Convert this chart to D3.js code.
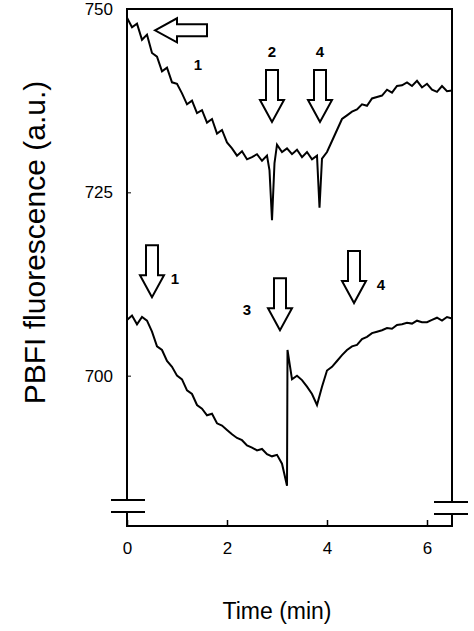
<!DOCTYPE html>
<html><head><meta charset="utf-8">
<script src="https://cdn.jsdelivr.net/npm/d3@7"></script>
<style>body{margin:0;background:#fff}text{font-family:Arial,"Liberation Sans",sans-serif}</style>
</head><body><div class="chart"></div>
<script>
// traces (time in min, fluorescence in a.u.)
var upperT = [0,0.1,0.2,0.3,0.4,0.5,0.6,0.7,0.8,0.9,1.0,1.1,1.2,1.3,1.4,1.5,1.6,1.7,1.8,1.9,2.0,2.1,2.2,2.3,2.4,2.5,2.6,2.7,2.8,2.85,2.9,2.95,3.0,3.1,3.2,3.3,3.4,3.5,3.6,3.7,3.8,3.85,3.9,4.0,4.1,4.2,4.3,4.4,4.5,4.6,4.7,4.8,4.9,5.0,5.1,5.2,5.3,5.4,5.5,5.6,5.7,5.8,5.9,6.0,6.1,6.2,6.3,6.4,6.5];
var upperV = [748.8,747.5,748,745.8,746.5,744,743.5,741.5,742,740,739.8,738.5,737,737.5,735.8,736.2,734.5,735,733,733.5,731.8,731,730,730.6,729.5,729.8,730.2,729.3,730,728,721.2,729,731.5,730.5,731,730.2,730.8,729.8,730.5,729.5,730,722.9,729.6,730.5,732,733.5,735,735.5,736,736.3,737,736.8,737.8,738,738.2,739,738.6,739.5,739.6,740,739.5,740.2,739.3,739.8,739,738.7,739.5,738.8,738.9];
var lowerT = [0,0.1,0.2,0.3,0.4,0.5,0.6,0.7,0.8,0.9,1.0,1.1,1.2,1.3,1.4,1.5,1.6,1.7,1.8,1.9,2.0,2.1,2.2,2.3,2.4,2.5,2.6,2.7,2.8,2.9,3.0,3.1,3.2,3.21,3.3,3.4,3.5,3.6,3.7,3.8,3.9,4.0,4.1,4.2,4.3,4.4,4.5,4.6,4.7,4.8,4.9,5.0,5.1,5.2,5.3,5.4,5.5,5.6,5.7,5.8,5.9,6.0,6.1,6.2,6.3,6.4,6.5];
var lowerV = [707.6,708.2,707,708,707.5,706,704,703.5,702,701.2,700,699.5,698,697.5,696,695.5,694.6,694.8,693.5,693.2,692.6,692,691.5,691.2,690.5,690.2,689.8,690,689.3,689,689.2,688,685,703.5,699.5,700,699.4,698.5,697.5,696,698.5,700.7,701.2,702,702.8,703.5,704,704.2,705,705.3,705.8,706,706.2,706.5,706.4,706.9,707,707.2,707.1,707.5,707.3,707.3,707.6,707.9,707.5,708,707.8];
var xTicks = [0,2,4,6];
var yTicks = [700,725,750];
// arrows: tip position (time, value), direction, label
var arrowT = [0.56,2.9,3.86,0.5,3.06,4.54];
var arrowV = [747.1,734.6,734.6,710.7,706.2,709.9];
var arrowDir = ["left","down","down","down","down","down"];
var arrowLabel = ["1","2","4","1","3","4"];

var margin = {top: 9, right: 22, bottom: 105, left: 127};
var width = 452 - margin.left, height = 526 - margin.top;
var svg = d3.select(".chart").append("svg").attr("width",474).attr("height",631)
  .append("g").attr("transform","translate("+margin.left+","+margin.top+")");

var x = d3.scaleLinear().domain([0,6.5]).range([0,width]);
var y = d3.scaleLinear().domain([679.5,750]).range([height,0]);

svg.append("rect").attr("width",width).attr("height",height)
  .attr("fill","none").attr("stroke","#000").attr("stroke-width",2);

svg.append("g").attr("transform","translate(0,"+height+")")
  .call(d3.axisBottom(x).tickValues(xTicks).tickSize(-6).tickPadding(16).tickFormat(d3.format("d")))
  .call(function(g){g.select(".domain").remove();g.selectAll("line").attr("stroke-width",1.5);g.selectAll("text").attr("font-size",17);});
svg.append("g")
  .call(d3.axisLeft(y).tickValues(yTicks).tickSize(-4).tickPadding(14))
  .call(function(g){g.select(".domain").remove();g.selectAll("text").attr("font-size",17);});

// axis break marks
[[-16,18],[width-18,width+16]].forEach(function(r,i){
  [0,12].forEach(function(dy){
    var yy = height - (i ? 24 : 26) + dy;
    svg.append("line").attr("x1",r[0]).attr("x2",r[1]).attr("y1",yy).attr("y2",yy).attr("stroke","#000").attr("stroke-width",2);
  });
  svg.append("rect").attr("x",r[0]+ (i?16:14)).attr("y",height-(i?23:25)).attr("width",5).attr("height",10).attr("fill","#fff");
});

var line = d3.line().x(function(d){return x(d[0]);}).y(function(d){return y(d[1]);});
[[upperT,upperV],[lowerT,lowerV]].forEach(function(s){
  svg.append("path").datum(d3.zip(s[0],s[1])).attr("d",line)
    .attr("fill","none").attr("stroke","#000").attr("stroke-width",2);
});

// block arrows
arrowT.forEach(function(t,i){
  var tx = x(t), ty = y(arrowV[i]);
  var p = [[0,0],[-12,-22],[-6,-22],[-6,-52],[6,-52],[6,-22],[12,-22]];
  var g = svg.append("g").attr("transform","translate("+tx+","+ty+")"+(arrowDir[i]=="left"?" rotate(90)":""));
  g.append("path").attr("d","M"+p.join("L")+"Z").attr("fill","#fff").attr("stroke","#000").attr("stroke-width",2);
  var lx = [43,0,0,23,-33,27][i], ly = [40,-65,-65,-13,-15,-13][i];
  svg.append("text").attr("x",tx+lx).attr("y",ty+ly).attr("text-anchor","middle")
    .attr("font-size",15).attr("font-weight","bold").text(arrowLabel[i]);
});

svg.append("text").attr("transform","rotate(-90)").attr("x",-height/2+25).attr("y",-82)
  .attr("text-anchor","middle").attr("font-size",30).text("PBFI fluorescence (a.u.)");
svg.append("text").attr("x",x(3)).attr("y",height+93).attr("text-anchor","middle")
  .attr("font-size",23).text("Time (min)");
</script></body></html>
